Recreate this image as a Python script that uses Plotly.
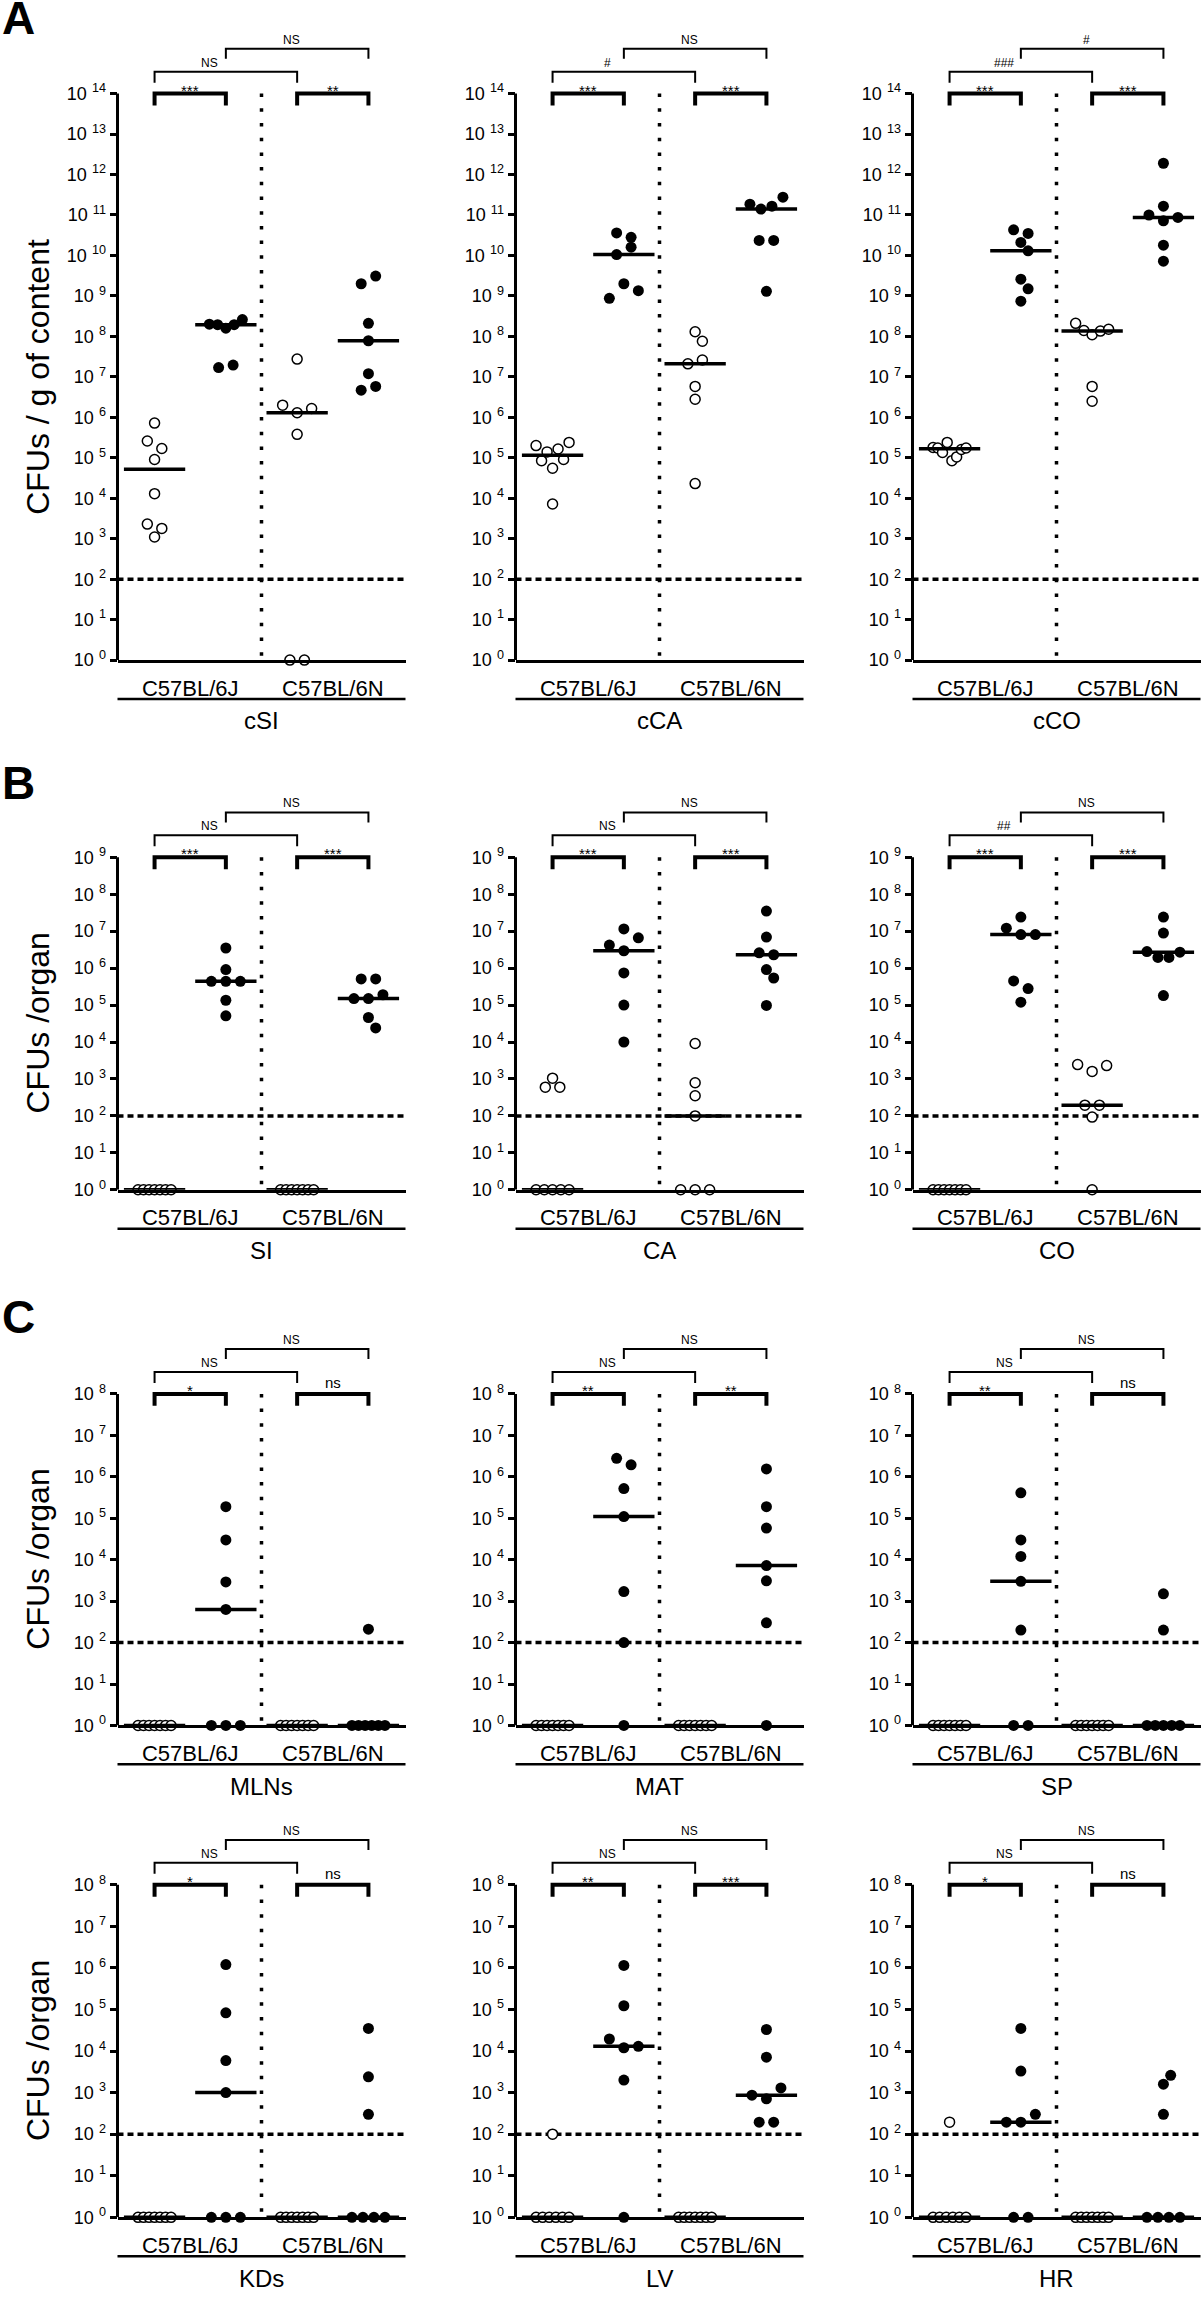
import numpy as np
import plotly.graph_objects as go

# CFU counts per mouse; samples below detection are drawn at 10^0 (= 1)
# each organ: [6J open, 6J filled, 6N open, 6N filled]
strains = ["C57BL/6J", "C57BL/6N"]

# A - CFUs / g of content
cSI = [[7.2e5, 2.6e5, 1.7e5, 9.1e4, 1.3e4, 2.3e3, 1.8e3, 1.1e3],
       [2.0e8, 1.95e8, 1.6e8, 1.95e8, 2.6e8, 1.7e7, 1.95e7],
       [2.75e7, 2.0e6, 1.3e6, 1.65e6, 3.8e5, 1, 1],
       [2.0e9, 3.1e9, 2.1e8, 7.8e7, 1.2e7, 4.7e6, 5.8e6]]
cCA = [[2.0e5, 8.5e4, 1.4e5, 5.5e4, 1.65e5, 9.1e4, 2.4e5, 7.2e3],
       [3.6e10, 2.8e10, 1.05e10, 1.6e10, 8.7e8, 2.0e9, 1.35e9],
       [1.3e8, 7.6e7, 2.1e7, 2.6e7, 5.8e6, 2.8e6, 2.3e4],
       [1.85e11, 1.4e11, 1.65e11, 2.75e11, 2.35e10, 2.35e10, 1.3e9]]
cCO = [[1.8e5, 1.75e5, 1.35e5, 2.4e5, 8.5e4, 1.05e5, 1.6e5, 1.75e5],
       [4.3e10, 3.5e10, 2.1e10, 1.3e10, 2.6e9, 1.5e9, 7.4e8],
       [2.1e8, 1.4e8, 1.1e8, 1.35e8, 1.5e8, 5.8e6, 2.5e6],
       [1.9e12, 1.65e11, 1.0e11, 7.2e10, 8.7e10, 1.8e10, 7.2e9]]

# B - CFUs / organ
SI = [[1, 1, 1, 1, 1, 1, 1],
      [3.5e6, 9.1e5, 4.4e5, 4.4e5, 4.4e5, 1.35e5, 5.1e4],
      [1, 1, 1, 1, 1, 1, 1],
      [5.1e5, 5.1e5, 1.5e5, 1.5e5, 1.9e5, 4.6e4, 2.4e4]]
CA = [[1, 1, 1, 1, 1, 6.0e2, 6.0e2, 1.05e3],
      [1.15e7, 4.2e6, 2.95e6, 6.6e6, 7.4e5, 1.0e5, 1.0e4],
      [9.1e3, 7.9e2, 3.5e2, 1.0e2, 1, 1, 1],
      [3.5e7, 6.9e6, 2.6e6, 2.3e6, 9.1e5, 5.4e5, 9.8e4]]
CO = [[1, 1, 1, 1, 1, 1, 1],
      [2.4e7, 1.2e7, 8.1e6, 8.1e6, 4.5e5, 2.8e5, 1.2e5],
      [2.45e3, 1.6e3, 2.3e3, 1.95e2, 1.95e2, 93, 1],
      [2.4e7, 8.9e6, 2.8e6, 1.95e6, 1.95e6, 2.7e6, 1.8e5]]

# C - CFUs / organ
MLNs = [[1, 1, 1, 1, 1, 1, 1],
        [1.9e5, 3.0e4, 2.9e3, 6.3e2, 1, 1, 1],
        [1, 1, 1, 1, 1, 1, 1],
        [2.1e2, 1, 1, 1, 1, 1, 1]]
MAT = [[1, 1, 1, 1, 1, 1, 1],
       [2.8e6, 1.95e6, 5.2e5, 1.1e5, 1.7e3, 1.0e2, 1],
       [1, 1, 1, 1, 1, 1, 1],
       [1.55e6, 1.9e5, 5.8e4, 7.2e3, 3.1e3, 3.0e2, 1]]
SP = [[1, 1, 1, 1, 1, 1, 1],
      [4.1e5, 3.0e4, 1.2e4, 3.0e3, 2.0e2, 1, 1],
      [1, 1, 1, 1, 1, 1, 1],
      [1.5e3, 2.0e2, 1, 1, 1, 1, 1]]
KDs = [[1, 1, 1, 1, 1, 1, 1],
       [1.2e6, 8.3e4, 5.9e3, 1.0e3, 1, 1, 1],
       [1, 1, 1, 1, 1, 1, 1],
       [3.5e4, 2.4e3, 3.0e2, 1, 1, 1, 1]]
LV = [[1.0e2, 1, 1, 1, 1, 1, 1],
      [1.15e6, 1.23e5, 1.95e4, 1.2e4, 1.3e4, 2.0e3, 1],
      [1, 1, 1, 1, 1, 1, 1],
      [3.3e4, 7.1e3, 8.7e2, 7.1e2, 1.3e3, 1.95e2, 1.95e2]]
HR = [[1.95e2, 1, 1, 1, 1, 1, 1],
      [3.5e4, 3.3e3, 1.95e2, 1.95e2, 3.0e2, 1, 1],
      [1, 1, 1, 1, 1, 1, 1],
      [1.6e3, 2.6e3, 3.0e2, 1, 1, 1, 1]]

# significance labels: within strain (6J, 6N) and between strains (open, filled)
panels = [
    ("cSI", cSI, ["***", "**"], ["NS", "NS"]),
    ("cCA", cCA, ["***", "***"], ["#", "NS"]),
    ("cCO", cCO, ["***", "***"], ["###", "#"]),
    ("SI", SI, ["***", "***"], ["NS", "NS"]),
    ("CA", CA, ["***", "***"], ["NS", "NS"]),
    ("CO", CO, ["***", "***"], ["##", "NS"]),
    ("MLNs", MLNs, ["*", "ns"], ["NS", "NS"]),
    ("MAT", MAT, ["**", "**"], ["NS", "NS"]),
    ("SP", SP, ["**", "ns"], ["NS", "NS"]),
    ("KDs", KDs, ["*", "ns"], ["NS", "NS"]),
    ("LV", LV, ["**", "***"], ["NS", "NS"]),
    ("HR", HR, ["*", "ns"], ["NS", "NS"]),
]
row_letters = ["A", "B", "C", None]
row_ytitles = ["CFUs / g of content", "CFUs /organ", "CFUs /organ", "CFUs /organ"]

# ---- layout in pixels ----
W, H = 1204, 2300
FONT = "Arial, Liberation Sans, sans-serif"
cols_x = [117.5, 515.5, 912.5]
axis_w = 288.0
xr = [-0.52, 3.52]
unit_px = axis_w / (xr[1] - xr[0])
# (pixel of top decade, pixel of 10^0, number of decades)
rows = [(94, 663, 14), (861, 1195, 9), (1400, 1733, 8), (1893, 2227, 8)]
letter_y = [18, 786, 1323]
head_px = 66


def swarm(vals, dpd, d=10.5, tol=8.0, lane=7.25, maxspan=33.0):
    """column scatter offsets (in px), GraphPad-like"""
    ys = np.log10(vals) * dpd
    n = len(vals)
    xs = [None] * n
    order = sorted(range(n), key=lambda i: ys[i])
    rws, cur = [], [order[0]]
    for i in order[1:]:
        if ys[i] - ys[cur[-1]] < tol:
            cur.append(i)
        else:
            rws.append(cur)
            cur = [i]
    rws.append(cur)
    for rw in rws:
        if len(rw) > 1:
            rw = sorted(rw)
            m = len(rw)
            s = min(2 * lane, maxspan / (m - 1))
            for k, i in enumerate(rw):
                xs[i] = (k - (m - 1) / 2) * s
    placed = [i for i in range(n) if xs[i] is not None]
    cands = [0.0]
    for k in range(1, 8):
        cands += [k * lane, -k * lane]
    for i in range(n):
        if xs[i] is not None:
            continue
        xs[i] = 0.0
        for cnd in cands:
            if all((cnd - xs[j]) ** 2 + (ys[i] - ys[j]) ** 2 >= d * d for j in placed):
                xs[i] = cnd
                break
        placed.append(i)
    return np.array(xs)


fig = go.Figure()
shapes, annotations, axes = [], [], {}

for idx, (organ, groups, within, between) in enumerate(panels):
    r, c = divmod(idx, 3)
    top, bot, ndec = rows[r]
    dpd = (bot - top) / ndec
    n = idx + 1
    xa = "x" if n == 1 else f"x{n}"
    ya = "y" if n == 1 else f"y{n}"
    ymax = ndec + head_px / dpd

    axes["xaxis" if n == 1 else f"xaxis{n}"] = dict(
        domain=[cols_x[c] / W, (cols_x[c] + axis_w) / W], anchor=ya, range=xr,
        showline=True, linewidth=3, linecolor="black", showgrid=False, zeroline=False,
        ticks="", tickvals=[0.5, 2.5], ticktext=strains, ticklabelstandoff=6,
        tickfont=dict(family=FONT, size=22, color="black"), fixedrange=True)
    axes["yaxis" if n == 1 else f"yaxis{n}"] = dict(
        domain=[1 - bot / H, 1 - (top - head_px) / H], anchor=xa, type="log",
        range=[0, ymax], showline=False, showgrid=False, zeroline=False,
        tickvals=[10 ** k for k in range(ndec + 1)],
        ticktext=[f"10 <sup>{k}</sup>" for k in range(ndec + 1)],
        ticks="outside", ticklen=7, tickwidth=2.5, tickcolor="black",
        tickfont=dict(family=FONT, size=18, color="black"), fixedrange=True)

    # y axis line only up to top decade
    shapes.append(dict(type="line", xref=f"{xa} domain", yref=ya, x0=0, x1=0,
                       y0=1, y1=10 ** ndec, line=dict(color="black", width=3)))

    # detection limit and strain separator
    fig.add_trace(go.Scatter(x=xr, y=[100, 100], mode="lines", xaxis=xa, yaxis=ya,
                             line=dict(color="black", width=3.5, dash="6px,4px"),
                             hoverinfo="skip", showlegend=False))
    fig.add_trace(go.Scatter(x=[1.5, 1.5], y=[10 ** ndec, 1], mode="lines", xaxis=xa, yaxis=ya,
                             line=dict(color="black", width=3.5, dash="3.5px,11.2px"),
                             hoverinfo="skip", showlegend=False))

    # points and medians
    for g, vals in enumerate(groups):
        vals = np.array(vals, dtype=float)
        xs = g + swarm(vals, dpd) / unit_px
        filled = g % 2 == 1
        fig.add_trace(go.Scatter(
            x=xs, y=vals, mode="markers", xaxis=xa, yaxis=ya, cliponaxis=False,
            marker=dict(symbol="circle", size=11 if filled else 10,
                        color="black" if filled else "white",
                        line=dict(color="black", width=0 if filled else 1.5)),
            showlegend=False))
        med = np.median(vals)
        fig.add_trace(go.Scatter(x=[g - 0.43, g + 0.43], y=[med, med], mode="lines",
                                 xaxis=xa, yaxis=ya, line=dict(color="black", width=3.5),
                                 hoverinfo="skip", showlegend=False))

    # significance brackets
    def up(px):
        return 10 ** (ndec + px / dpd)

    bx, by = [], []
    for a in (0, 2):
        bx += [a, a, a + 1, a + 1, None]
        by += [up(-12), up(0), up(0), up(-12), None]
    fig.add_trace(go.Scatter(x=bx, y=by, mode="lines", xaxis=xa, yaxis=ya,
                             line=dict(color="black", width=4), hoverinfo="skip",
                             showlegend=False))
    for (a, b, lvl, leg) in [(0, 2, 22, 11), (1, 3, 45, 10)]:
        fig.add_trace(go.Scatter(x=[a, a, b, b], y=[up(lvl - leg), up(lvl), up(lvl), up(lvl - leg)],
                                 mode="lines", xaxis=xa, yaxis=ya,
                                 line=dict(color="black", width=2), hoverinfo="skip",
                                 showlegend=False))
    for a, txt in zip((0.5, 2.5), within):
        annotations.append(dict(x=a, y=ndec, xref=xa, yref=ya, text=txt, showarrow=False,
                                yanchor="bottom", yshift=-7 if "*" in txt else 1,
                                font=dict(family=FONT, size=15, color="black")))
    for a, lvl, txt in zip((0.77, 1.92), (22, 45), between):
        annotations.append(dict(x=a, y=ndec + lvl / dpd, xref=xa, yref=ya, text=txt,
                                showarrow=False, yanchor="bottom", yshift=0,
                                font=dict(family=FONT, size=12, color="black")))

    # strain underline and organ name
    shapes.append(dict(type="line", xref=f"{xa} domain", yref="paper", x0=0, x1=1,
                       y0=1 - (bot + 39) / H, y1=1 - (bot + 39) / H,
                       line=dict(color="black", width=2.5)))
    annotations.append(dict(x=0.5, y=1 - (bot + 61) / H, xref=f"{xa} domain", yref="paper",
                            text=organ, showarrow=False, yanchor="middle",
                            font=dict(family=FONT, size=24, color="black")))

    if c == 0:
        annotations.append(dict(x=38 / W, y=1 - (top + bot) / 2 / H, xref="paper", yref="paper",
                                text=row_ytitles[r], textangle=-90, showarrow=False,
                                xanchor="center", yanchor="middle",
                                font=dict(family=FONT, size=32, color="black")))

for r, letter in enumerate(row_letters):
    if letter:
        annotations.append(dict(x=0, y=1 - letter_y[r] / H, xref="paper", yref="paper",
                                text=f"<b>{letter}</b>", showarrow=False,
                                xanchor="left", yanchor="middle",
                                font=dict(family=FONT, size=46, color="black")))

fig.update_layout(
    width=W, height=H, margin=dict(l=0, r=0, t=0, b=0),
    plot_bgcolor="white", paper_bgcolor="white",
    font=dict(family=FONT, color="black"),
    shapes=shapes, annotations=annotations, showlegend=False,
    **axes)

fig.write_html("out.html", config={"displayModeBar": False},
               post_script="document.body.style.margin='0px';")
